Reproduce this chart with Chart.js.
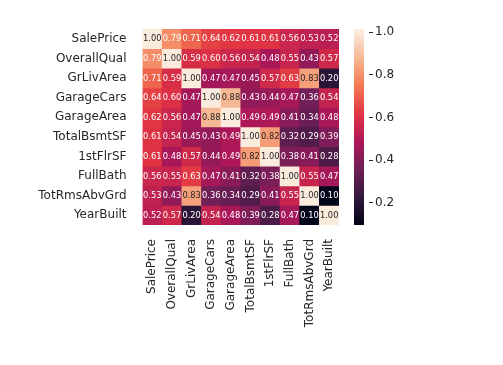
<!DOCTYPE html>
<html>
<head>
<meta charset="utf-8">
<script src="https://cdn.jsdelivr.net/npm/chart.js@4/dist/chart.umd.min.js"></script>
<style>
  html, body { margin: 0; padding: 0; background: #fff; }
  #wrap { position: relative; width: 503px; height: 365px; }
  #wrap canvas { position: absolute; left: 0; top: 0; }
</style>
</head>
<body>
<div id="wrap">
  <canvas id="heat" width="503" height="365"></canvas>
  <canvas id="cbar" width="503" height="365"></canvas>
</div>
<script>
'use strict';

// variables (rows and columns)
var labels = ['SalePrice', 'OverallQual', 'GrLivArea', 'GarageCars', 'GarageArea',
              'TotalBsmtSF', '1stFlrSF', 'FullBath', 'TotRmsAbvGrd', 'YearBuilt'];

// correlation rows
var corrSalePrice    = [1.00, 0.79, 0.71, 0.64, 0.62, 0.61, 0.61, 0.56, 0.53, 0.52];
var corrOverallQual  = [0.79, 1.00, 0.59, 0.60, 0.56, 0.54, 0.48, 0.55, 0.43, 0.57];
var corrGrLivArea    = [0.71, 0.59, 1.00, 0.47, 0.47, 0.45, 0.57, 0.63, 0.83, 0.20];
var corrGarageCars   = [0.64, 0.60, 0.47, 1.00, 0.88, 0.43, 0.44, 0.47, 0.36, 0.54];
var corrGarageArea   = [0.62, 0.56, 0.47, 0.88, 1.00, 0.49, 0.49, 0.41, 0.34, 0.48];
var corrTotalBsmtSF  = [0.61, 0.54, 0.45, 0.43, 0.49, 1.00, 0.82, 0.32, 0.29, 0.39];
var corr1stFlrSF     = [0.61, 0.48, 0.57, 0.44, 0.49, 0.82, 1.00, 0.38, 0.41, 0.28];
var corrFullBath     = [0.56, 0.55, 0.63, 0.47, 0.41, 0.32, 0.38, 1.00, 0.55, 0.47];
var corrTotRmsAbvGrd = [0.53, 0.43, 0.83, 0.36, 0.34, 0.29, 0.41, 0.55, 1.00, 0.10];
var corrYearBuilt    = [0.52, 0.57, 0.20, 0.54, 0.48, 0.39, 0.28, 0.47, 0.10, 1.00];

var rows = [corrSalePrice, corrOverallQual, corrGrLivArea, corrGarageCars, corrGarageArea,
            corrTotalBsmtSF, corr1stFlrSF, corrFullBath, corrTotRmsAbvGrd, corrYearBuilt];

// colorbar ticks and the span its axis shows
var cbTicks = [0.2, 0.4, 0.6, 0.8, 1.0];
var cbRange = [0.095, 1.015];

var allVals = [].concat.apply([], rows);
var vmin = Math.min.apply(null, allVals),
    vmax = Math.max.apply(null, allVals);

// "rocket" colormap stops
var rocket = [
    [0.000, [3, 5, 26]],
    [0.143, [53, 25, 62]],
    [0.286, [112, 31, 87]],
    [0.429, [173, 23, 89]],
    [0.571, [225, 51, 66]],
    [0.714, [243, 118, 81]],
    [0.857, [246, 180, 143]],
    [1.000, [250, 235, 221]]
];

function cmapRGB(t) {
    t = Math.max(0, Math.min(1, t));
    for (var i = 1; i < rocket.length; i++) {
        if (t <= rocket[i][0]) {
            var a = rocket[i - 1], b = rocket[i];
            var f = (t - a[0]) / (b[0] - a[0]);
            return [0, 1, 2].map(function (k) { return Math.round(a[1][k] + f * (b[1][k] - a[1][k])); });
        }
    }
    return rocket[rocket.length - 1][1];
}
function rgbStr(c) { return 'rgb(' + c[0] + ',' + c[1] + ',' + c[2] + ')'; }
function norm(v) { return (v - vmin) / (vmax - vmin); }

// same rule seaborn uses to pick the annotation colour
function luminance(c) {
    var l = c.map(function (x) {
        x = x / 255;
        return x <= 0.03928 ? x / 12.92 : Math.pow((x + 0.055) / 1.055, 2.4);
    });
    return 0.2126 * l[0] + 0.7152 * l[1] + 0.0722 * l[2];
}

var textColor = '#262626',
    font = 'DejaVu Sans',
    labelSize = 12;

// heatmap cells as stacked unit bars, one dataset per row
var datasets = rows.map(function (row, r) {
    return {
        label: labels[r],
        data: row.map(function () { return 1; }),
        backgroundColor: row.map(function (v) { return rgbStr(cmapRGB(norm(v))); }),
        borderWidth: 0,
        barPercentage: 1,
        categoryPercentage: 1,
        stack: 'm'
    };
});

var annotate = {
    id: 'annotate',
    afterDatasetsDraw: function (chart) {
        var ctx = chart.ctx;
        ctx.save();
        ctx.font = '8.3px "' + font + '"';
        ctx.textAlign = 'center';
        ctx.textBaseline = 'middle';
        rows.forEach(function (row, r) {
            var meta = chart.getDatasetMeta(r);
            meta.data.forEach(function (bar, c) {
                var p = bar.getProps(['x', 'y', 'base'], true);
                var v = row[c];
                ctx.fillStyle = luminance(cmapRGB(norm(v))) > 0.408 ? textColor : '#ffffff';
                ctx.fillText(v.toFixed(2), p.x, (p.y + p.base) / 2 + 0.5);
            });
        });
        ctx.restore();
    }
};

new Chart(document.getElementById('heat').getContext('2d'), {
    type: 'bar',
    data: { labels: labels, datasets: datasets },
    options: {
        responsive: false,
        animation: false,
        devicePixelRatio: 1,
        layout: { padding: { left: 0, top: 29, right: 164, bottom: 0 } },
        plugins: { legend: { display: false }, tooltip: { enabled: false } },
        scales: {
            x: {
                stacked: true,
                grid: { display: false },
                border: { display: false },
                ticks: {
                    autoSkip: false, maxRotation: 90, minRotation: 90, padding: 6,
                    color: textColor, font: { family: font, size: labelSize }
                },
                afterFit: function (s) { s.height = 140; }
            },
            y: {
                type: 'linear',
                stacked: true,
                reverse: true,
                min: 0,
                max: labels.length,
                grid: { display: false },
                border: { display: false },
                ticks: {
                    autoSkip: false, padding: 8,
                    color: textColor, font: { family: font, size: labelSize },
                    callback: function (v, i) { return labels[i]; }
                },
                afterBuildTicks: function (s) {
                    s.ticks = labels.map(function (l, i) { return { value: i + 0.5 }; });
                },
                afterFit: function (s) { s.width = 142.5; }
            }
        }
    },
    plugins: [annotate]
});

// colorbar: gradient strip, ticks stand a little off its right edge
var gradientFill = {
    id: 'gradientFill',
    beforeDatasetsDraw: function (chart) {
        var ctx = chart.ctx, a = chart.chartArea, y = chart.scales.y;
        var y0 = y.getPixelForValue(vmin), y1 = y.getPixelForValue(vmax);
        var g = ctx.createLinearGradient(0, y0, 0, y1);
        rocket.forEach(function (s) { g.addColorStop(s[0], rgbStr(s[1])); });
        ctx.save();
        ctx.fillStyle = g;
        ctx.fillRect(a.left, a.top, 10, a.bottom - a.top);
        ctx.restore();
    }
};

new Chart(document.getElementById('cbar').getContext('2d'), {
    type: 'bar',
    data: { labels: [''], datasets: [{ data: [] }] },
    options: {
        responsive: false,
        animation: false,
        devicePixelRatio: 1,
        layout: { padding: { left: 354, top: 29, right: 94, bottom: 140 } },
        plugins: { legend: { display: false }, tooltip: { enabled: false } },
        scales: {
            x: { display: false },
            y: {
                type: 'linear',
                position: 'right',
                min: cbRange[0],
                max: cbRange[1],
                grid: { drawOnChartArea: false, drawTicks: true, tickLength: 4, color: textColor },
                border: { display: false },
                ticks: {
                    padding: 2, color: textColor, font: { family: font, size: labelSize },
                    callback: function (v) { return v.toFixed(1); }
                },
                afterBuildTicks: function (s) {
                    s.ticks = cbTicks.map(function (v) { return { value: v }; });
                },
                afterFit: function (s) { s.width = 40; }
            }
        }
    },
    plugins: [gradientFill]
});
</script>
</body>
</html>
